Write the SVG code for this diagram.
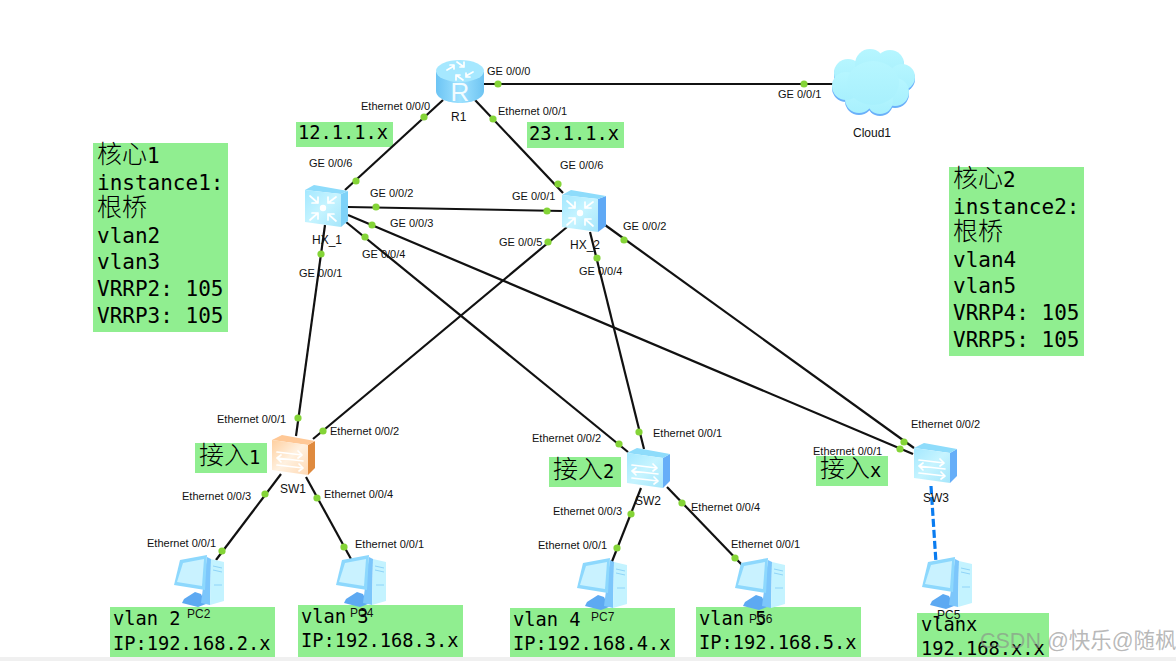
<svg xmlns="http://www.w3.org/2000/svg" width="1176" height="661" viewBox="0 0 1176 661">
<style>
text{fill:#111}
.l{font:11px "Liberation Sans",Arial,sans-serif}
.m{font:12px "Liberation Sans",Arial,sans-serif}
.n{font:18.7px "DejaVu Sans Mono","Liberation Mono","Noto Sans CJK SC",monospace;fill:#000}
.c{font:21px "DejaVu Sans Mono","Liberation Mono","Noto Sans CJK SC",monospace;fill:#000}
.z{font-family:"Noto Sans CJK SC","DejaVu Sans",sans-serif;font-weight:300;font-size:25px}
.box{fill:#90ee90}
#connectors line{stroke:#111;stroke-width:2.2}
#connectors circle{fill:#84d437}
#connectors .d{stroke:#0a7cf0;stroke-width:3.2;stroke-dasharray:8 3}
.ar{fill:none;stroke:#fff;stroke-width:1.7;stroke-linecap:round;stroke-linejoin:round}
</style>
<defs>
<linearGradient id="bf" x1="0" y1="0" x2="1" y2="1"><stop offset="0" stop-color="#a4e8ff"/><stop offset=".5" stop-color="#c6f4ff"/><stop offset="1" stop-color="#a6e6fb"/></linearGradient>
<linearGradient id="of" x1="0" y1="0" x2="1" y2="1"><stop offset="0" stop-color="#ffcf9f"/><stop offset=".5" stop-color="#fff1e0"/><stop offset="1" stop-color="#ffd9b4"/></linearGradient>
<linearGradient id="rb" x1="0" y1="0" x2="1" y2="0"><stop offset="0" stop-color="#6cc4f4"/><stop offset=".5" stop-color="#9fe2ff"/><stop offset="1" stop-color="#6ec4f2"/></linearGradient>
<linearGradient id="cl" x1="0" y1="0" x2="0" y2="1"><stop offset="0" stop-color="#b6f6ff"/><stop offset="1" stop-color="#a8f0fd"/></linearGradient>
<g id="arrows2">
<path class="ar" d="M6 17 L31 20 M27 16 L31 20 L27 23"/>
<path class="ar" d="M32 26 L6 23 M10 20 L6 23 L10 27"/>
<path class="ar" d="M6 30 L32 33 M28 29 L32 33 L28 36"/>
</g>
<g id="arrows4">
<circle cx="18" cy="23" r="3.2" fill="#fff"/>
<path class="ar" d="M5 11 L13 18 M13 12 V18 H7"/>
<path class="ar" d="M31 12 L23 18 M23 12 V18 H29"/>
<path class="ar" d="M5 35 L13 28 M13 34 V28 H7"/>
<path class="ar" d="M31 36 L23 29 M23 35 V29 H29"/>
</g>
<g id="pc">
<polygon points="10,44 21,37 27,39 32,49 24,52 8,48" fill="#5da9f2"/>
<polygon points="33,2 37,4 36,50 27,48" fill="#7cc6fb"/>
<polygon points="37,4 50,7 50,46 36,50" fill="#c4f3ff"/>
<path d="M39 11 L48 13 M39 15 L48 17 M40 30 L48 30" stroke="#8fd4f8" stroke-width="1" fill="none"/>
<polygon points="6,5 33,0 31,35 0,30" fill="#8dd8fd"/>
<polygon points="9,8 30,4 28,31 3,27" fill="#c9f2ff"/>
</g>
<g id="cloudshape">
<circle cx="848" cy="73" r="14"/><circle cx="870" cy="64" r="15"/><circle cx="890" cy="64" r="14"/><circle cx="902" cy="77" r="13"/><circle cx="895" cy="92" r="14"/><circle cx="880" cy="101" r="13"/><circle cx="859" cy="99" r="14"/><circle cx="846" cy="86" r="14"/><ellipse cx="873" cy="83" rx="26" ry="22"/>
</g>
</defs>
<rect width="1176" height="661" fill="#fff"/>
<rect y="657" width="1176" height="4" fill="#f0f0f0"/>

<g id="notes">
<g id="note-core1"><rect class="box" x="93" y="143" width="135" height="189"/>
<text class="c" x="97" y="163"><tspan class="z">核心</tspan>1</text><text class="c" x="97" y="190">instance1:</text><text class="c z" x="97" y="216">根桥</text><text class="c" x="97" y="243">vlan2</text><text class="c" x="97" y="269">vlan3</text><text class="c" x="97" y="296">VRRP2: 105</text><text class="c" x="97" y="323">VRRP3: 105</text></g>
<g id="note-core2"><rect class="box" x="949" y="167" width="135" height="189"/>
<text class="c" x="953" y="187"><tspan class="z">核心</tspan>2</text><text class="c" x="953" y="214">instance2:</text><text class="c z" x="953" y="240">根桥</text><text class="c" x="953" y="267">vlan4</text><text class="c" x="953" y="293">vlan5</text><text class="c" x="953" y="320">VRRP4: 105</text><text class="c" x="953" y="347">VRRP5: 105</text></g>
<g id="note-net1"><rect class="box" x="296" y="122" width="97" height="25"/><text class="n" x="298" y="139">12.1.1.x</text></g>
<g id="note-net2"><rect class="box" x="527" y="122" width="97" height="26"/><text class="n" x="529" y="140">23.1.1.x</text></g>
<g id="note-a1"><rect class="box" x="195" y="443" width="72" height="30"/><text class="n" x="199" y="464"><tspan class="z">接入</tspan>1</text></g>
<g id="note-a2"><rect class="box" x="549" y="457" width="72" height="30"/><text class="n" x="553" y="478"><tspan class="z">接入</tspan>2</text></g>
<g id="note-ax"><rect class="box" x="816" y="456" width="72" height="30"/><text class="n" x="820" y="477"><tspan class="z">接入</tspan>x</text></g>
<g id="note-v2"><rect class="box" x="110" y="607" width="165" height="50"/><text class="n" x="113" y="625">vlan 2</text><text class="n" x="113" y="650">IP:192.168.2.x</text></g>
<g id="note-v3"><rect class="box" x="298" y="605" width="165" height="52"/><text class="n" x="301" y="623">vlan 3</text><text class="n" x="301" y="647">IP:192.168.3.x</text></g>
<g id="note-v4"><rect class="box" x="510" y="608" width="165" height="49"/><text class="n" x="513" y="626">vlan 4</text><text class="n" x="513" y="650">IP:192.168.4.x</text></g>
<g id="note-v5"><rect class="box" x="696" y="607" width="165" height="50"/><text class="n" x="699" y="625">vlan 5</text><text class="n" x="699" y="649">IP:192.168.5.x</text></g>
<g id="note-vx"><rect class="box" x="917" y="613" width="132" height="44"/><text class="n" x="921" y="631">vlanx</text><text class="n" x="921" y="655">192.168.x.x</text></g>
</g>

<g id="connectors">
<line x1="484" y1="84" x2="834" y2="84"/>
<line x1="443" y1="100" x2="345" y2="190"/>
<line x1="475" y1="100" x2="563" y2="193"/>
<line x1="348" y1="207" x2="563" y2="211"/>
<line x1="348" y1="215" x2="913" y2="454"/>
<line x1="346" y1="222" x2="628" y2="452"/>
<line x1="325" y1="225" x2="296" y2="436"/>
<line x1="567" y1="227" x2="313" y2="439"/>
<line x1="590" y1="232" x2="644" y2="449"/>
<line x1="605" y1="225" x2="914" y2="448"/>
<line x1="281" y1="474" x2="216" y2="560"/>
<line x1="306" y1="477" x2="351" y2="559"/>
<line x1="641" y1="488" x2="611" y2="564"/>
<line x1="667" y1="487" x2="743" y2="566"/>
<line class="d" x1="931" y1="486" x2="936" y2="563"/>
<circle cx="498" cy="84" r="3.6"/><circle cx="804" cy="84" r="3.6"/>
<circle cx="424" cy="117" r="3.6"/><circle cx="356" cy="181" r="3.6"/>
<circle cx="493" cy="119" r="3.6"/><circle cx="558" cy="184" r="3.6"/>
<circle cx="376" cy="207" r="3.6"/><circle cx="547" cy="211" r="3.6"/>
<circle cx="372" cy="225" r="3.6"/><circle cx="900" cy="449" r="3.6"/>
<circle cx="365" cy="237" r="3.6"/><circle cx="619" cy="444" r="3.6"/>
<circle cx="321" cy="254" r="3.6"/><circle cx="298" cy="418" r="3.6"/>
<circle cx="548" cy="242" r="3.6"/><circle cx="323" cy="431" r="3.6"/>
<circle cx="597" cy="258" r="3.6"/><circle cx="639" cy="432" r="3.6"/>
<circle cx="624" cy="240" r="3.6"/><circle cx="904" cy="442" r="3.6"/>
<circle cx="265" cy="494" r="3.6"/><circle cx="222" cy="551" r="3.6"/>
<circle cx="317" cy="498" r="3.6"/><circle cx="344" cy="547" r="3.6"/>
<circle cx="631" cy="514" r="3.6"/><circle cx="617" cy="548" r="3.6"/>
<circle cx="682" cy="503" r="3.6"/><circle cx="735" cy="558" r="3.6"/>
</g>

<g id="R1">
<path d="M436 72 V91 C436 98 447 103 460 103 S484 98 484 91 V72 Z" fill="url(#rb)"/>
<ellipse cx="460" cy="71" rx="24" ry="11" fill="#a6e8ff"/>
<path class="ar" d="M447 70 L454 66 M450 65 H454 V69 M473 72 L466 76 M470 77 H466 V73 M457 62 L464 67 M460 67 H464 V62 M463 80 L456 75 M460 75 H456 V80" stroke-width="1.3"/>
<text x="460" y="101" text-anchor="middle" style="font:26px 'Liberation Sans',sans-serif;fill:#f2fcff">R</text>
<text class="m" x="451" y="121">R1</text>
<text class="l" x="487" y="75">GE 0/0/0</text><text class="l" x="361" y="110">Ethernet 0/0/0</text><text class="l" x="498" y="115">Ethernet 0/0/1</text>
</g>
<g id="Cloud1">
<use href="#cloudshape" fill="#6ab0fa" y="2"/>
<use href="#cloudshape" fill="url(#cl)"/>
<text class="m" x="853" y="137">Cloud1</text><text class="l" x="778" y="98">GE 0/0/1</text>
</g>
<g id="HX_1" transform="translate(305,185)">
<polygon points="36,9 43,6 43,36 36,42" fill="#7ed2f8"/><polygon points="0,5 9,0 43,6 36,9" fill="#8edcfb"/><polygon points="0,5 36,9 36,42 0,37" fill="url(#bf)"/>
<use href="#arrows4"/>
<text class="m" x="7" y="59">HX_1</text>
</g>
<g id="HX_1-labels"><text class="l" x="309" y="167">GE 0/0/6</text><text class="l" x="370" y="197">GE 0/0/2</text><text class="l" x="390" y="227">GE 0/0/3</text><text class="l" x="362" y="258">GE 0/0/4</text><text class="l" x="299" y="277">GE 0/0/1</text></g>
<g id="HX_2" transform="translate(562,190)">
<polygon points="36,9 44,6 44,36 36,42" fill="#5fa9f5"/><polygon points="0,5 9,0 44,6 36,9" fill="#8edcfb"/><polygon points="0,5 36,9 36,42 0,37" fill="url(#bf)"/>
<use href="#arrows4"/>
<text class="m" x="8" y="59">HX_2</text>
</g>
<g id="HX_2-labels"><text class="l" x="560" y="169">GE 0/0/6</text><text class="l" x="512" y="200">GE 0/0/1</text><text class="l" x="499" y="246">GE 0/0/5</text><text class="l" x="623" y="230">GE 0/0/2</text><text class="l" x="579" y="275">GE 0/0/4</text></g>
<g id="SW1" transform="translate(271,435)">
<polygon points="37,10 44,6 44,33 37,40" fill="#df8a3e"/><polygon points="1,5 11,0 44,6 37,10" fill="#ffc896"/><polygon points="1,5 37,10 37,40 1,35" fill="url(#of)"/>
<use href="#arrows2"/>
<text class="m" x="9" y="58">SW1</text>
</g>
<g id="SW1-labels"><text class="l" x="217" y="423">Ethernet 0/0/1</text><text class="l" x="330" y="435">Ethernet 0/0/2</text><text class="l" x="182" y="500">Ethernet 0/0/3</text><text class="l" x="324" y="498">Ethernet 0/0/4</text></g>
<g id="SW2" transform="translate(626,448)">
<polygon points="37,10 44,6 44,33 37,40" fill="#66aef8"/><polygon points="1,5 11,0 44,6 37,10" fill="#8edcfb"/><polygon points="1,5 37,10 37,40 1,35" fill="url(#bf)"/>
<use href="#arrows2"/>
<text class="m" x="9" y="57">SW2</text>
</g>
<g id="SW2-labels"><text class="l" x="532" y="442">Ethernet 0/0/2</text><text class="l" x="653" y="437">Ethernet 0/0/1</text><text class="l" x="553" y="515">Ethernet 0/0/3</text><text class="l" x="691" y="511">Ethernet 0/0/4</text></g>
<g id="SW3" transform="translate(913,443)">
<polygon points="37,10 44,6 44,33 37,40" fill="#66aef8"/><polygon points="1,5 11,0 44,6 37,10" fill="#8edcfb"/><polygon points="1,5 37,10 37,40 1,35" fill="url(#bf)"/>
<use href="#arrows2"/>
<text class="m" x="10" y="59">SW3</text>
</g>
<g id="SW3-labels"><text class="l" x="911" y="428">Ethernet 0/0/2</text><text class="l" x="813" y="455">Ethernet 0/0/1</text></g>
<g id="PC2"><use href="#pc" x="174" y="555"/><text class="m" x="187" y="618">PC2</text><text class="l" x="147" y="547">Ethernet 0/0/1</text></g>
<g id="PC4"><use href="#pc" x="336" y="555"/><text class="m" x="350" y="617">PC4</text><text class="l" x="355" y="548">Ethernet 0/0/1</text></g>
<g id="PC7"><use href="#pc" x="577" y="558"/><text class="m" x="591" y="621">PC7</text><text class="l" x="538" y="549">Ethernet 0/0/1</text></g>
<g id="PC6"><use href="#pc" x="735" y="558"/><text class="m" x="749" y="623">PC6</text><text class="l" x="731" y="548">Ethernet 0/0/1</text></g>
<g id="PC5"><use href="#pc" x="922" y="557"/><text class="m" x="937" y="619">PC5</text></g>
<text x="980" y="648" style="font:21.5px 'Liberation Sans','Noto Sans CJK SC',sans-serif;fill:#8a8a8a;fill-opacity:.6">CSDN @快乐@随枫</text>
</svg>
